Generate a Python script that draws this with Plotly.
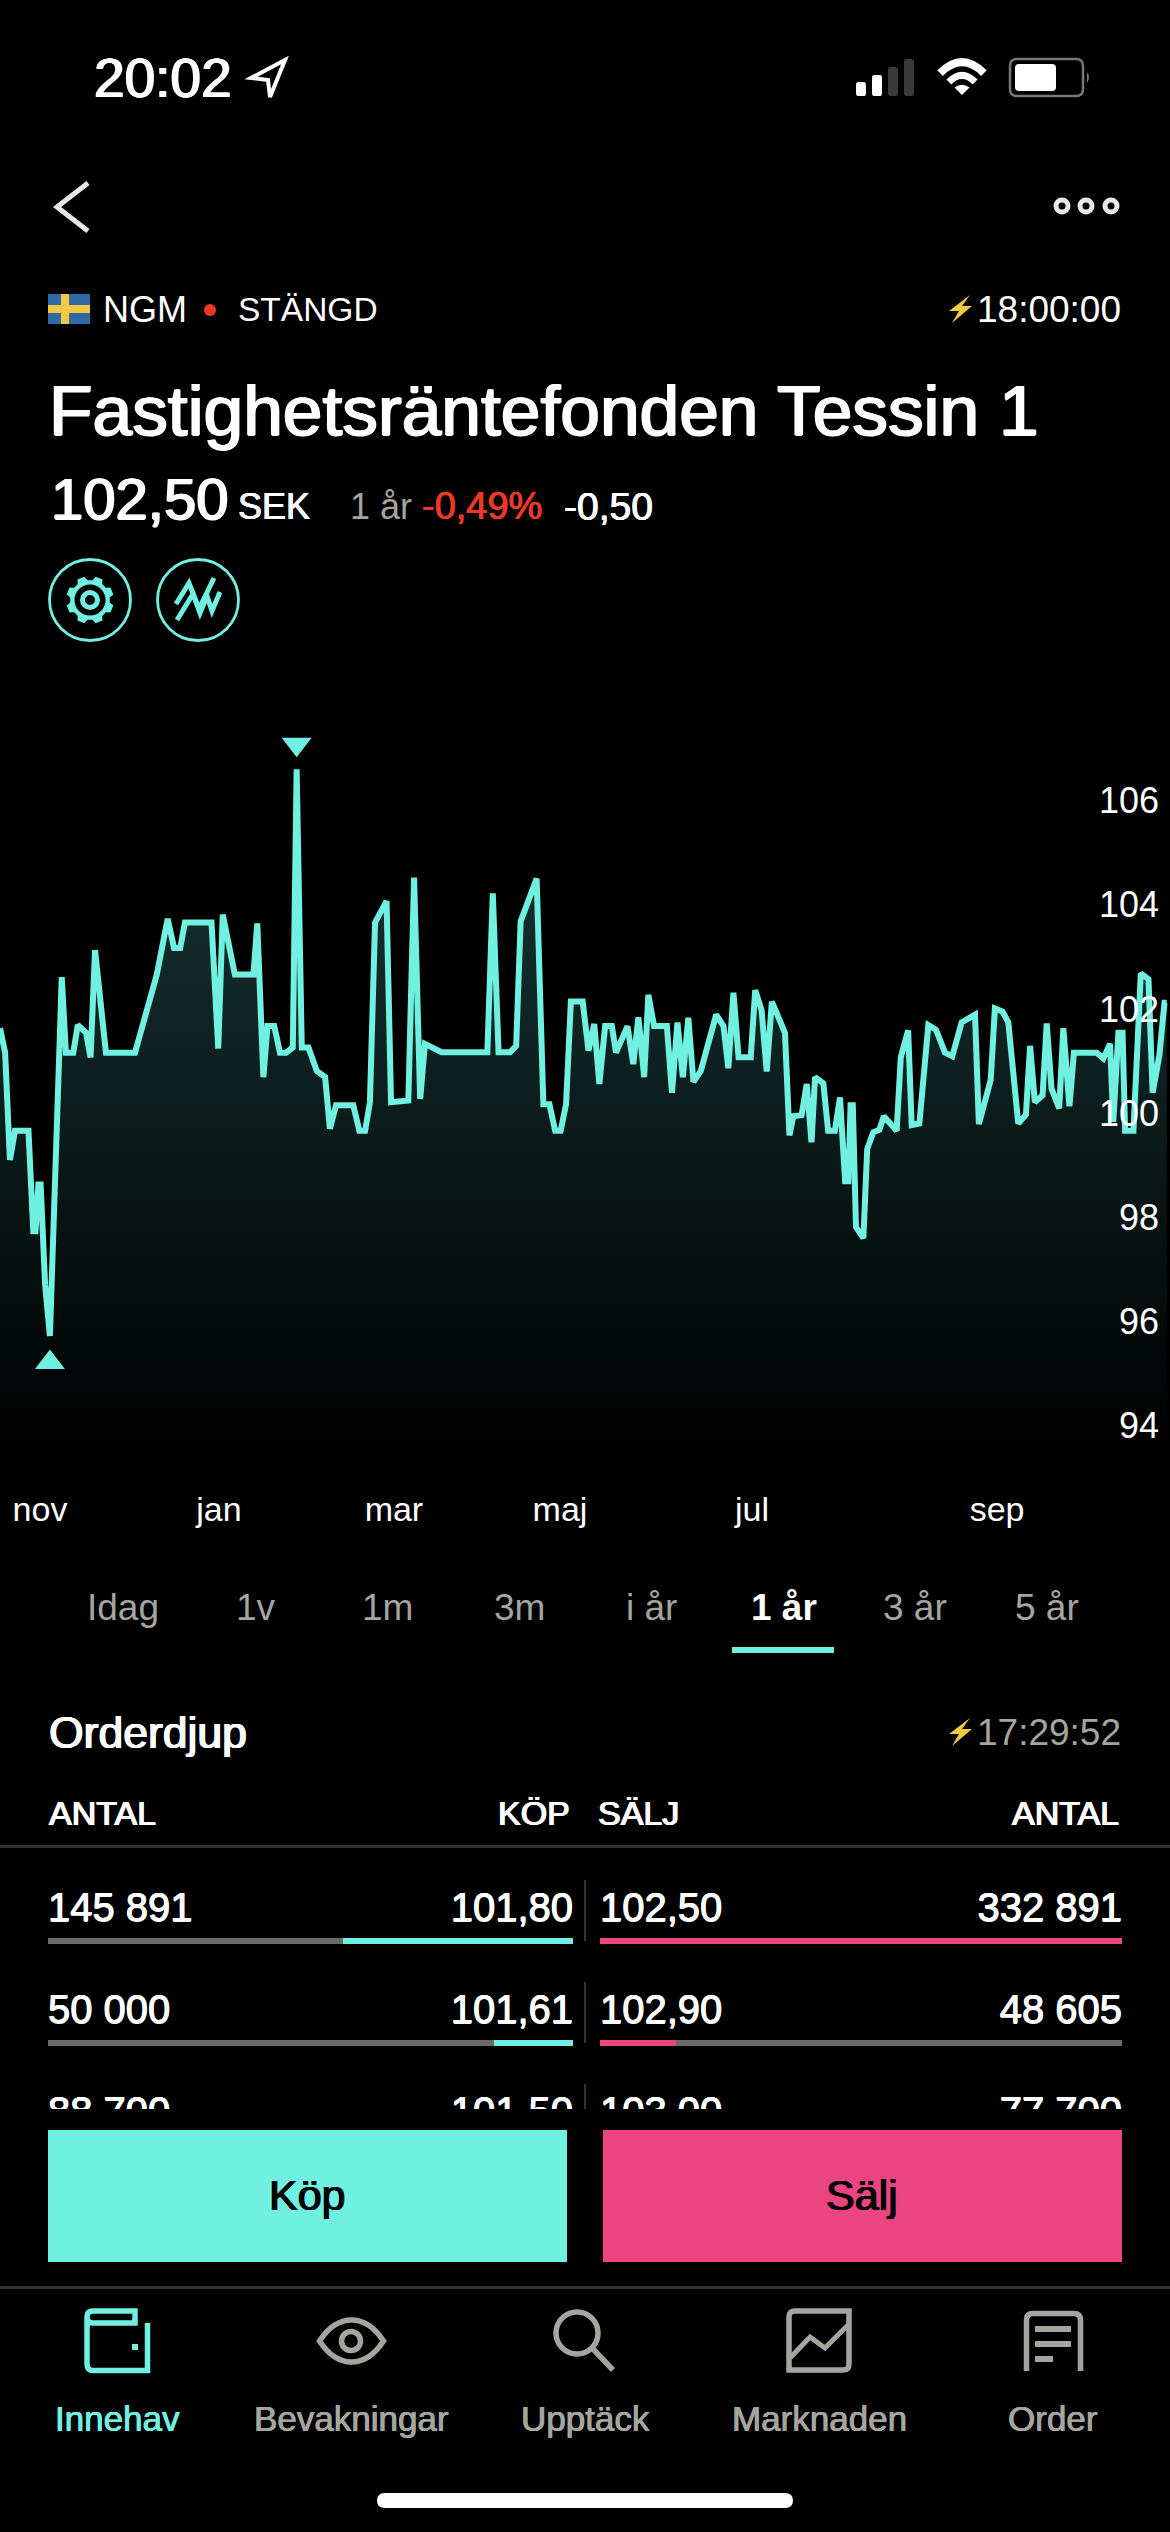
import math
import plotly.graph_objects as go

W, H = 1170, 2532
TEAL = "#6FF0E1"
PINK = "#EA4580"
GREY = "#A5A5A0"
FONT = "Liberation Sans"

# price history, x is day of the one year window
days = [0, 1.6, 3.1, 4.7, 8.9, 10.4, 11.1, 12.0, 12.7, 14.1, 15.6, 17.2, 19.3, 20.6, 22.9, 24.3, 26.9, 28.3, 29.7, 33.1,
        42.2, 49.0, 52.4, 54.4, 56.3, 57.8, 66.1, 68.2, 69.6, 73.4, 79.2, 80.4, 82.3, 83.6, 85.7, 87.5, 89.4, 91.5, 92.7, 94.3,
        96.4, 99.0, 101.6, 103.1, 105.0, 110.4, 112.3, 114.1, 115.6, 117.2, 120.8, 122.2, 127.6, 129.4, 131.3, 132.8, 138.0, 152.3, 154.0, 155.8,
        159.4, 161.3, 162.7, 167.7, 169.8, 171.7, 173.5, 175.2, 176.9, 178.4, 182.1, 183.9, 185.7, 187.3, 189.1, 191.2, 192.5, 196.1, 197.9, 199.5,
        201.3, 202.6, 204.4, 208.4, 210.0, 211.7, 213.4, 215.1, 216.7, 219.0, 223.8, 226.1, 227.6, 229.2, 230.8, 234.6, 236.0, 238.0, 239.6, 241.2,
        243.8, 245.3, 246.7, 247.9, 250.5, 252.1, 253.6, 254.7, 257.3, 258.8, 260.9, 262.5, 264.1, 265.1, 265.8, 266.5, 267.5, 269.8, 271.0, 272.9,
        274.8, 276.2, 280.2, 281.5, 283.8, 284.9, 287.3, 290.1, 292.5, 295.3, 297.6, 300.5, 304.7, 305.9, 309.6, 310.9, 313.3, 315.1, 318.2, 320.6,
        321.9, 323.4, 325.8, 327.1, 328.6, 331.0, 332.3, 334.2, 335.6, 342.7, 344.8, 346.9, 347.9, 349.5, 350.8, 351.6, 354.2, 356.5, 358.9, 360.2,
        362.3, 363.9, 364.6]
prices = [101.63, 101.16, 99.10, 99.66, 99.66, 97.73, 97.73, 98.63, 98.63, 96.70, 95.72, 98.50, 102.61, 101.16, 101.16, 101.69, 101.54, 101.07, 103.13, 101.16,
          101.16, 102.66, 103.73, 103.17, 103.17, 103.66, 103.66, 101.24, 103.81, 102.66, 102.66, 103.64, 100.69, 101.67, 101.67, 101.16, 101.16, 101.26, 106.60, 101.26,
          101.26, 100.81, 100.69, 99.70, 100.15, 100.15, 99.66, 99.66, 100.21, 103.66, 104.07, 100.21, 100.24, 104.52, 100.27, 101.33, 101.17, 101.17, 104.22, 101.17,
          101.17, 101.29, 103.68, 104.50, 100.17, 100.17, 99.66, 99.66, 100.17, 102.14, 102.14, 101.20, 101.71, 100.56, 101.67, 101.67, 101.16, 101.67, 100.94, 101.84,
          100.69, 102.27, 101.67, 101.67, 100.39, 101.74, 100.69, 101.83, 100.60, 100.81, 101.89, 101.67, 100.86, 102.31, 101.07, 101.07, 102.36, 101.97, 100.80, 102.14,
          101.76, 101.54, 99.57, 99.94, 99.96, 100.56, 99.44, 100.69, 100.57, 99.66, 99.66, 100.30, 98.69, 98.69, 100.15, 100.15, 97.81, 97.60, 99.31, 99.63,
          99.68, 99.94, 99.66, 101.07, 101.59, 99.77, 99.80, 101.69, 101.60, 101.16, 101.09, 101.74, 101.89, 99.79, 100.64, 102.01, 101.95, 101.74, 99.80, 99.97,
          101.29, 100.21, 100.34, 101.72, 100.47, 100.09, 101.63, 100.13, 101.16, 101.16, 101.05, 101.33, 99.83, 101.54, 101.54, 99.66, 99.66, 102.68, 102.57, 100.39,
          101.11, 102.12, 102.12]

high_low_days = [92.7, 15.6]
high_low_marks = [107.08, 95.21]
y_ticks = [94, 96, 98, 100, 102, 104, 106]
month_days = [12.5, 68.4, 123.1, 175.0, 235.0, 311.6]
month_labels = ["nov", "jan", "mar", "maj", "jul", "sep"]

# order book
book_rows = [1, 0, -1]
buy_qty = [145891, 50000, 88700]
buy_price = [101.80, 101.61, 101.50]
sell_price = [102.50, 102.90, 103.00]
sell_qty = [332891, 48605, 77700]
book_max = 332891

period_labels = ["Idag", "1v", "1m", "3m", "i år", "1 år", "3 år", "5 år"]
period_x = [123, 256, 387, 519, 651, 784, 915, 1047]
nav_labels = ["Innehav", "Bevakningar", "Upptäck", "Marknaden", "Order"]
nav_x = [117, 351, 585, 819, 1053]


def dom(top, bottom):
    return [1 - bottom / H, 1 - top / H]


def qty_text(v):
    return f"{v:,}".replace(",", " ")


def price_text(v):
    return f"{v:.2f}".replace(".", ",")


def heavy(s, color):
    return f"{s}px 0 0 {color}, -{s}px 0 0 {color}, 0 {s / 2}px 0 {color}"


fig = go.Figure()

# main chart
fig.add_trace(go.Scatter(x=days, y=prices, mode="lines", line=dict(color=TEAL, width=6),
                         fill="tozeroy", showlegend=False,
                         fillgradient=dict(type="vertical", start=93.4, stop=104.5,
                                           colorscale=[[0, "#000000"], [1, "#14302F"]])))
fig.add_trace(go.Scatter(x=high_low_days, y=high_low_marks, mode="markers", showlegend=False,
                         marker=dict(symbol=["triangle-down", "triangle-up"], size=26, color=TEAL)))

# order book bars
row_n = len(book_rows)
fig.add_trace(go.Bar(y=book_rows, x=[book_max] * row_n, orientation="h", width=0.062, marker=dict(color="#6B6B66", line_width=0),
                     xaxis="x2", yaxis="y2", showlegend=False))
fig.add_trace(go.Bar(y=book_rows, x=buy_qty, orientation="h", width=0.062, marker=dict(color=TEAL, line_width=0),
                     xaxis="x2", yaxis="y2", showlegend=False))
fig.add_trace(go.Bar(y=book_rows, x=[book_max] * row_n, orientation="h", width=0.062, marker=dict(color="#6B6B66", line_width=0),
                     xaxis="x3", yaxis="y2", showlegend=False))
fig.add_trace(go.Bar(y=book_rows, x=sell_qty, orientation="h", width=0.062, marker=dict(color=PINK, line_width=0),
                     xaxis="x3", yaxis="y2", showlegend=False))

# order book text, goes through the axes so the third row gets clipped like in the app
text_y = [r + 0.29 for r in book_rows]
book_font = dict(family=FONT, size=40, color="white", shadow=heavy(0.5, "white"))
fig.add_trace(go.Scatter(x=[book_max] * row_n, y=text_y, mode="text", text=[qty_text(v) for v in buy_qty],
                         textposition="middle right", textfont=book_font, xaxis="x2", yaxis="y2", showlegend=False))
fig.add_trace(go.Scatter(x=[0] * row_n, y=text_y, mode="text", text=[price_text(v) for v in buy_price],
                         textposition="middle left", textfont=book_font, xaxis="x2", yaxis="y2", showlegend=False))
fig.add_trace(go.Scatter(x=[0] * row_n, y=text_y, mode="text", text=[price_text(v) for v in sell_price],
                         textposition="middle right", textfont=book_font, xaxis="x3", yaxis="y2", showlegend=False))
fig.add_trace(go.Scatter(x=[book_max] * row_n, y=text_y, mode="text", text=[qty_text(v) for v in sell_qty],
                         textposition="middle left", textfont=book_font, xaxis="x3", yaxis="y2", showlegend=False))

# empty trace for the pixel axes the app chrome is drawn on
fig.add_trace(go.Scatter(x=[None], y=[None], xaxis="x4", yaxis="y4", showlegend=False))

shapes = []
annotations = []


def text(x, y, s, size, color="white", anchor="left", weight=400, shadow=None):
    font = dict(family=FONT, size=size, color=color, weight=weight)
    if shadow:
        font["shadow"] = heavy(shadow, color)
    annotations.append(dict(x=x, y=y, xref="x4", yref="y4", text=s, showarrow=False, xanchor=anchor,
                            yanchor="middle", borderpad=0, font=font))


def rect(x0, y0, x1, y1, color):
    shapes.append(dict(type="rect", x0=x0, y0=y0, x1=x1, y1=y1, xref="x4", yref="y4",
                       fillcolor=color, line_width=0, layer="above"))


def circle(cx, cy, r, fill="rgba(0,0,0,0)", line=None, lw=0):
    shapes.append(dict(type="circle", x0=cx - r, y0=cy - r, x1=cx + r, y1=cy + r, xref="x4", yref="y4",
                       fillcolor=fill, line=dict(color=line or "rgba(0,0,0,0)", width=lw), layer="above"))


def path(d, fill="rgba(0,0,0,0)", line=None, lw=0):
    shapes.append(dict(type="path", path=d, xref="x4", yref="y4", fillcolor=fill,
                       line=dict(color=line or "rgba(0,0,0,0)", width=lw), layer="above"))


def bolt(top):
    path(f"M970,{top} L949,{top + 16} H959 L952,{top + 28} L972,{top + 11} H962 Z", fill="#F6C945")


# status bar
text(93, 78, "20:02", 55, shadow=0.9)
path("M285,60 L251,78 L268,80 L270,97 Z", line="white", lw=4)
for x0, y0, c in [(856, 82, "white"), (872, 75, "white"), (888, 67, "#3A3A3A"), (904, 59, "#3A3A3A")]:
    path(f"M{x0 + 2},{y0} H{x0 + 8} Q{x0 + 10},{y0} {x0 + 10},{y0 + 3} V93 Q{x0 + 10},96 {x0 + 8},96 H{x0 + 2} Q{x0},96 {x0},93 V{y0 + 3} Q{x0},{y0} {x0 + 2},{y0} Z", fill=c)
wc, wb = 962, 95
for r, lw in [(31, 8), (18.5, 7)]:
    d = r * 0.707
    path(f"M{wc - d},{wb - d} Q{wc},{wb - r * 1.414} {wc + d},{wb - d}", line="white", lw=lw)
path(f"M{wc},{wb} L{wc - 7.5},{wb - 7.5} Q{wc},{wb - 13} {wc + 7.5},{wb - 7.5} Z", fill="white")
path("M1017,59 H1076 Q1083,59 1083,66 V89 Q1083,96 1076,96 H1017 Q1010,96 1010,89 V66 Q1010,59 1017,59 Z", line="#777777", lw=2.5)
path("M1019,64 H1052 Q1056,64 1056,68 V87 Q1056,91 1052,91 H1019 Q1015,91 1015,87 V68 Q1015,64 1019,64 Z", fill="white")
path("M1087,72 Q1091,77 1087,83 Z", fill="#777777")

# top nav
path("M88,183 L57,207 L88,231", line="#E8E8E4", lw=5)
for cx in (1062, 1086, 1111):
    circle(cx, 206, 6, line="#E8E8E4", lw=5)

# exchange row
rect(48, 294, 90, 324, "#2E6AA6")
rect(48, 305, 90, 313, "#F6C945")
rect(61, 294, 69, 324, "#F6C945")
text(102, 309, "NGM", 36)
circle(210, 310, 6, fill="#EA3A25")
text(237, 309, "STÄNGD", 33.5)
bolt(295)
text(1122, 309, "18:00:00", 37, anchor="right")

# title row
text(48, 410, "Fastighetsräntefonden Tessin 1", 71.3, shadow=1.0)
text(50, 498, "102,50", 58, shadow=1.0)
text(237, 506, "SEK", 36, shadow=0.5)
text(349, 506, "1 år", 36, color=GREY)
text(421, 506, "-0,49%", 38, color="#EA3A25", shadow=0.5)
text(563, 506, "-0,50", 39, shadow=0.5)

# indicator buttons
circle(90, 600, 40.5, line=TEAL, lw=2.8)
circle(198, 600, 40.5, line=TEAL, lw=2.8)
gear = []
for i in range(8):
    a = math.radians(45 * i + 22.5)
    for off, r in [(-15, 20), (-9, 24), (9, 24), (15, 20)]:
        gear.append((90 + r * math.cos(a + math.radians(off)), 600 + r * math.sin(a + math.radians(off))))
path("M" + " L".join(f"{x:.1f},{y:.1f}" for x, y in gear) + " Z", fill=TEAL)
circle(90, 600, 15.5, fill="black")
circle(90, 600, 7.5, line=TEAL, lw=5)
path("M176,604 L189,583 L199,609 L214,578", line=TEAL, lw=5)
path("M177,620 L193,594 L200,613 L207,596 L212,611 L220,592", line=TEAL, lw=5)

# period tabs
for lab, x in zip(period_labels, period_x):
    if lab == "1 år":
        text(x, 1607, lab, 37, anchor="center", weight=700)
    else:
        text(x, 1607, lab, 37, color=GREY, anchor="center")
rect(732, 1647, 834, 1653, TEAL)

# order book headers
text(48, 1732, "Orderdjup", 44.5, shadow=0.8)
bolt(1718)
text(1122, 1732, "17:29:52", 37, color=GREY, anchor="right")
text(48, 1813, "ANTAL", 34, shadow=0.7)
text(571, 1813, "KÖP", 34, anchor="right", shadow=0.7)
text(597, 1813, "SÄLJ", 34, shadow=0.7)
text(1120, 1813, "ANTAL", 34, anchor="right", shadow=0.7)
rect(0, 1845, W, 1848, "#333330")
for y0, y1 in [(1880, 1941), (1982, 2043), (2084, 2109)]:
    rect(584, y0, 586, y1, "#333330")

# buttons
rect(48, 2130, 567, 2262, TEAL)
rect(603, 2130, 1122, 2262, PINK)
text(307, 2195, "Köp", 43, color="black", anchor="center", shadow=0.7)
text(862, 2195, "Sälj", 43, color="black", anchor="center", shadow=0.7)
rect(0, 2286, W, 2289, "#333330")

# bottom nav icons
path("M147.5,2323 V2370.5 H93 Q87,2370.5 87,2364 V2317 Q87,2311 93,2311 H135 V2323 H93 Q87,2323 87,2317", line=TEAL, lw=5.5)
rect(132, 2344, 138, 2350, TEAL)
path("M319.5,2341 C330,2325 342,2320 351.5,2320 C361,2320 373,2325 383.5,2341 C373,2357 361,2362 351.5,2362 C342,2362 330,2357 319.5,2341 Z", line=GREY, lw=5.5)
circle(351, 2341, 9.5, line=GREY, lw=5.5)
circle(577, 2333, 21, line=GREY, lw=5.5)
path("M593,2349 L613,2370", line=GREY, lw=5.5)
path("M795,2311 H849 V2364 Q849,2370 843,2370 H789 V2317 Q789,2311 795,2311 Z", line=GREY, lw=5.5)
path("M790,2358 L810,2337 L825,2348 L849,2324", line=GREY, lw=5)
path("M1026.5,2371 V2320 Q1026.5,2313.5 1033,2313.5 H1074 Q1080.5,2313.5 1080.5,2320 V2371", line=GREY, lw=5.5)
rect(1035, 2326, 1071, 2332, GREY)
rect(1035, 2341, 1071, 2347, GREY)
rect(1035, 2356, 1053, 2362, GREY)

for lab, x in zip(nav_labels, nav_x):
    text(x, 2418, lab, 35, color=TEAL if lab == "Innehav" else GREY, anchor="center", shadow=0.4)

path("M385,2493 H785 Q793,2493 793,2500.5 Q793,2508 785,2508 H385 Q377,2508 377,2500.5 Q377,2493 385,2493 Z", fill="white")

hidden = dict(visible=False, showgrid=False, zeroline=False, fixedrange=True)

fig.update_layout(
    width=W, height=H, autosize=False,
    margin=dict(l=0, r=0, t=0, b=0),
    paper_bgcolor="black", plot_bgcolor="rgba(0,0,0,0)",
    showlegend=False, barmode="overlay", bargap=0,
    font=dict(family=FONT, color="white"),
    shapes=shapes, annotations=annotations,
    xaxis=dict(domain=[0, 1], range=[0, 365.625], anchor="y", showgrid=False, zeroline=False, showline=False,
               tickmode="array", tickvals=month_days, ticktext=month_labels, ticks="", ticklabelstandoff=26,
               tickfont=dict(family=FONT, size=34, color="white")),
    yaxis=dict(domain=dom(700, 1460), range=[93.34, 107.93], anchor="free", position=1162 / W, side="right",
               showgrid=False, zeroline=False, showline=False, tickmode="array", tickvals=y_ticks,
               ticks="", ticklabelposition="inside", tickfont=dict(family=FONT, size=36, color="white")),
    xaxis2=dict(hidden, domain=[48 / W, 573 / W], range=[book_max, 0], anchor="y2"),
    xaxis3=dict(hidden, domain=[600 / W, 1122 / W], range=[0, book_max], anchor="y2"),
    yaxis2=dict(hidden, domain=dom(1890, 2109), range=[-0.647, 1.5], anchor="x2"),
    xaxis4=dict(hidden, domain=[0, 1], range=[0, W], anchor="y4"),
    yaxis4=dict(hidden, domain=[0, 1], range=[H, 0], anchor="x4"),
)

fig.write_html("out.html", config={"displayModeBar": False},
               post_script="document.body.style.margin='0';document.body.style.background='black';")
